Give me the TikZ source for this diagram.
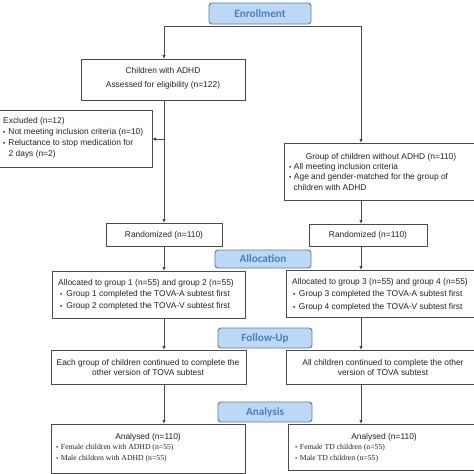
\documentclass[tikz,border=0pt]{standalone}
\usepackage{fontspec}
\setmainfont{Liberation Sans}
\newfontfamily\labfont{Carlito}
\newfontfamily\serfont{Liberation Serif}
\usetikzlibrary{arrows.meta}
\definecolor{labfill}{HTML}{BCD8F5}
\definecolor{labdraw}{HTML}{5A7BA0}
\definecolor{labtext}{HTML}{4A7EC2}
\definecolor{linec}{HTML}{4A4A4A}
\definecolor{txtc}{HTML}{222222}
\newcommand{\bul}[1]{{\fontsize{6.5}{6.5}\selectfont •}\hspace{#1}}
\begin{document}
\begin{tikzpicture}[x=1pt,y=-1pt,
  box/.style={draw=linec, line width=1pt, inner sep=0pt, outer sep=0pt, anchor=north west},
  lab/.style={draw=labdraw, fill=labfill, rounded corners=3pt, line width=0.9pt, text=labtext,
    font=\labfont\bfseries\fontsize{11.2}{13}\selectfont, inner sep=0pt, outer sep=0pt, anchor=north west},
  txt/.style={font=\fontsize{8.4}{10}\selectfont, inner sep=0pt, text=txtc, anchor=mid},
  txtw/.style={txt, anchor=mid west},
  sertxt/.style={font=\serfont\fontsize{7.7}{9}\selectfont, inner sep=0pt, text=txtc, anchor=mid west},
  arr/.style={draw=linec, line width=0.9pt, -{Latex[length=4pt,width=3.5pt]}},
  ln/.style={draw=linec, line width=0.9pt}]
\useasboundingbox (0,0) rectangle (474,474);

% x positions of the two vertical chains
\coordinate (lx) at (164,0);
\coordinate (rx) at (361,0);

% boxes
\node[box, minimum width=164pt, minimum height=41pt] (chd) at (81,59) {};
\node[box, minimum width=156pt, minimum height=57pt] (exc) at (-4,110) {};
\node[box, minimum width=192pt, minimum height=57pt] (grp) at (284,143) {};
\node[box, minimum width=116pt, minimum height=23pt] (rl) at (106,223) {};
\node[box, minimum width=118pt, minimum height=22pt] (rr) at (309,224) {};
\node[box, minimum width=193pt, minimum height=47pt] (al) at (52,271) {};
\node[box, minimum width=190pt, minimum height=47pt] (ar) at (286,270) {};
\node[box, minimum width=195pt, minimum height=34pt] (fl) at (51,350) {};
\node[box, minimum width=190pt, minimum height=34pt] (fr) at (286,350) {};
\node[box, minimum width=194pt, minimum height=49pt] (nl) at (51,424) {};
\node[box, minimum width=188pt, minimum height=46pt] (nr) at (288,424) {};

% connectors
\coordinate (eL) at (164,26);
\coordinate (eR) at (361,26);
\draw[ln] (eL) -- (eR);
\draw[arr] (eL) -- (chd.north -| lx);
\draw[arr] (eR) -- (grp.north -| rx);
\draw[arr] (chd.south -| lx) -- (rl.north -| lx);
\coordinate (exo) at (164,139);
\draw[arr] (exo) -- (exc.east |- exo);
\draw[arr] (grp.south -| rx) -- (rr.north -| rx);
\draw[arr] (rl.south -| lx) -- (al.north -| lx);
\draw[arr] (rr.south -| rx) -- (ar.north -| rx);
\draw[arr] (al.south -| lx) -- (fl.north -| lx);
\draw[arr] (ar.south -| rx) -- (fr.north -| rx);
\draw[arr] (fl.south -| lx) -- (nl.north -| lx);
\draw[arr] (fr.south -| rx) -- (nr.north -| rx);

% stage labels
\node[lab, minimum width=102pt, minimum height=21pt] (enr) at (209,3) {Enrollment};
\node[lab, minimum width=96pt, minimum height=18pt] (alc) at (215,250) {Allocation};
\node[lab, minimum width=94pt, minimum height=20pt] (fol) at (218,328) {Follow-Up};
\node[lab, minimum width=94pt, minimum height=20pt] (ana) at (218,402) {Analysis};

% texts
\node[txt] (t1) at (163,71) {Children with ADHD};
\node[txt] (t2) at (163,85) {Assessed for eligibility (n=122)};

\node[txtw] (t3) at (3,121) {Excluded (n=12)};
\node[txtw] (t4) at (3,132) {\bul{3pt}Not meeting inclusion criteria (n=10)};
\node[txtw] (t5) at (3,143) {\bul{3pt}Reluctance to stop medication for};
\node[txtw] (t6) at (8.5,154) {2 days (n=2)};

\node[txt] (t7) at (381,157) {Group of children without ADHD (n=110)};
\node[txtw] (t8) at (289,167) {\bul{2.5pt}All meeting inclusion criteria};
\node[txtw] (t9) at (289,177) {\bul{2.5pt}Age and gender-matched for the group of};
\node[txtw] (t10) at (293.5,188) {children with ADHD};

\node[txt] (t11) at (164,235) {Randomized (n=110)};
\node[txt] (t12) at (368,235) {Randomized (n=110)};

\node[txtw] (t13) at (58,283) {Allocated to group 1 (n=55) and group 2 (n=55)};
\node[txtw] (t14) at (60,294) {\bul{4pt}Group 1 completed the TOVA-A subtest first};
\node[txtw] (t15) at (60,306) {\bul{4pt}Group 2 completed the TOVA-V subtest first};

\node[txtw] (t16) at (292,282) {Allocated to group 3 (n=55) and group 4 (n=55)};
\node[txtw] (t17) at (293,294) {\bul{3.5pt}Group 3 completed the TOVA-A subtest first};
\node[txtw] (t18) at (293,307) {\bul{3.5pt}Group 4 completed the TOVA-V subtest first};

\node[txt] (t19) at (148,363) {Each group of children continued to complete the};
\node[txt] (t20) at (148,373) {other version of TOVA subtest};
\node[txt] (t21) at (383,363) {All children continued to complete the other};
\node[txt] (t22) at (383,373) {version of TOVA subtest};

\node[txt] (t23) at (148,437) {Analysed (n=110)};
\node[sertxt] (t24) at (56,447) {\bul{2.5pt}Female children with ADHD (n=55)};
\node[sertxt] (t25) at (56,458) {\bul{2.5pt}Male children with ADHD (n=55)};
\node[txt] (t26) at (384,437) {Analysed (n=110)};
\node[sertxt] (t27) at (295,447) {\bul{2.5pt}Female TD children (n=55)};
\node[sertxt] (t28) at (295,458) {\bul{2.5pt}Male TD children (n=55)};
\end{tikzpicture}
\end{document}
